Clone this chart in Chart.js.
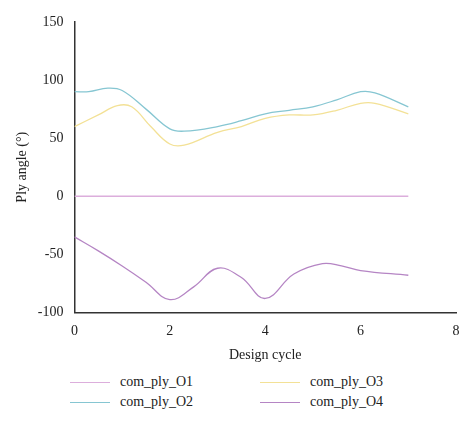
<!DOCTYPE html><html><head><meta charset="utf-8">
<script src="https://cdn.jsdelivr.net/npm/chart.js@4"></script>
<style>body{margin:0;background:#fff;font-family:"Liberation Serif",serif}
#w{position:relative;width:474px;height:428px}
#lg{position:absolute;top:374px;left:70px;width:400px;display:grid;grid-template-columns:190px 190px;row-gap:4px;font-size:14px;color:#222}
#lg span{display:flex;align-items:center}#lg i{display:inline-block;width:40px;height:0;border-top:1.5px solid;margin-right:10px}
</style></head><body><div id="w"><canvas id="c" width="474" height="368"></canvas><div id="lg"></div></div>
<script>
const xO1=[0,7], yO1=[0,0];
const xO2=[0,0.3,0.7,1.0,1.5,2.0,2.3,3.0,3.5,4.0,4.5,5.0,5.5,6.0,6.3,7.0];
const yO2=[90,90,93,91,75,58,56,60,65,71,74,77,83,90,89,77];
const xO3=[0,0.5,0.9,1.2,1.6,2.0,2.3,3.0,3.5,4.0,4.5,5.0,5.5,6.0,6.3,7.0];
const yO3=[60,70,78,77,60,45,44,55,60,67,70,70,74,80,80,71];
const xO4=[0,0.5,1.0,1.5,2.0,2.5,3.0,3.5,4.0,4.6,5.2,5.6,6.0,7.0];
const yO4=[-35,-47,-60,-74,-89,-78,-62,-70,-88,-67,-58,-60,-64,-68];
const names=["com_ply_O1","com_ply_O2","com_ply_O3","com_ply_O4"];
const colors=["#dcaedc","#86c6d2","#f3e196","#b585c4"];
const xs=[xO1,xO2,xO3,xO4], ys=[yO1,yO2,yO3,yO4];
const ds=names.map((n,i)=>({label:n,data:xs[i].map((x,j)=>({x,y:ys[i][j]})),borderColor:colors[i],borderWidth:1.3,pointRadius:0,tension:0.4,fill:false}));
const f={family:"Liberation Serif",size:14};
new Chart(document.getElementById('c'),{type:'line',data:{datasets:ds},options:{animation:false,responsive:false,
plugins:{legend:{display:false}},layout:{padding:{top:22,right:18,left:10}},
scales:{x:{type:'linear',min:0,max:8,ticks:{stepSize:2,color:'#222',font:f},grid:{display:false},border:{color:'#333',width:1.5},title:{display:true,text:'Design cycle',color:'#222',font:f}},
y:{min:-100,max:150,ticks:{stepSize:50,color:'#222',font:f},grid:{display:false},border:{color:'#333',width:1.5},title:{display:true,text:'Ply angle (°)',color:'#222',font:f}}}}});
const lg=document.getElementById('lg');
[0,2,1,3].forEach(i=>{lg.innerHTML+=`<span><i style="border-color:${colors[i]}"></i>${names[i]}</span>`;});
</script></body></html>
